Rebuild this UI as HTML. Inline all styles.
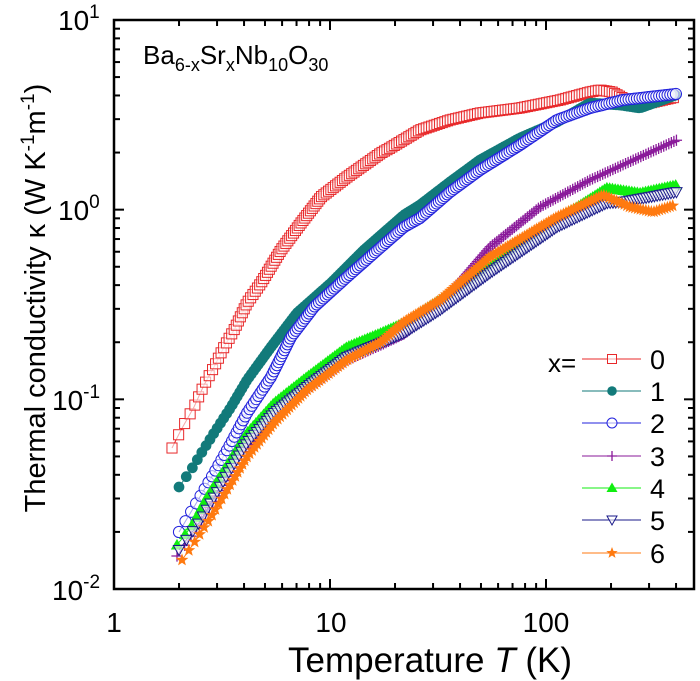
<!DOCTYPE html>
<html><head><meta charset="utf-8"><style>
html,body{margin:0;padding:0;background:#fff}
svg{display:block;font-family:"Liberation Sans",Arial,sans-serif}
</style></head><body>
<svg id="s" width="700" height="681" viewBox="0 0 700 681" xmlns="http://www.w3.org/2000/svg">
<rect width="700" height="681" fill="#fff"/>
<g id="data"></g>
<g id="axes" stroke="#000" stroke-width="2" fill="none"></g>
<rect x="114" y="20" width="580" height="569" fill="none" stroke="#000" stroke-width="2.5"/>
<g font-size="28" fill="#000">
<text x="58" y="30">10<tspan dy="-12" font-size="19">1</tspan></text>
<text x="58" y="220">10<tspan dy="-12" font-size="19">0</tspan></text>
<text x="52" y="410">10<tspan dy="-12" font-size="19">-1</tspan></text>
<text x="52" y="600">10<tspan dy="-12" font-size="19">-2</tspan></text>
<text x="114" y="632" text-anchor="middle">1</text>
<text x="331" y="632" text-anchor="middle">10</text>
<text x="546" y="632" text-anchor="middle">100</text>
</g>
<text x="430" y="672" font-size="35" text-anchor="middle">Temperature <tspan font-style="italic">T</tspan> (K)</text>
<text transform="translate(45,298) rotate(-90)" font-size="29" text-anchor="middle">Thermal conductivity κ (W K<tspan dy="-11" font-size="19">-1</tspan><tspan dy="11">m</tspan><tspan dy="-11" font-size="19">-1</tspan><tspan dy="11">)</tspan></text>
<text x="143" y="64" font-size="26">Ba<tspan dy="7" font-size="18">6-x</tspan><tspan dy="-7">Sr</tspan><tspan dy="7" font-size="18">x</tspan><tspan dy="-7">Nb</tspan><tspan dy="7" font-size="18">10</tspan><tspan dy="-7">O</tspan><tspan dy="7" font-size="18">30</tspan></text>
<text x="548" y="372" font-size="26">x=</text>
<g id="leg"></g>
</svg>
<script>
var NS="http://www.w3.org/2000/svg";
function el(t,a,p){var e=document.createElementNS(NS,t);for(var k in a)e.setAttribute(k,a[k]);p.appendChild(e);return e;}
var ax=document.getElementById('axes');
function xp(T){return 114+216*Math.log10(T);}
function yp(k){return 589-189.67*(Math.log10(k)+2);}
for(var d=0;d<3;d++)for(var m=1;m<10;m++){var T=m*Math.pow(10,d);var x=xp(T);if(x<=114.5||x>693)continue;var L=(m==1)?10:6;
el('line',{x1:x,y1:589,x2:x,y2:589-L},ax);el('line',{x1:x,y1:20,x2:x,y2:20+L},ax);}
for(var d=-2;d<1;d++)for(var m=1;m<10;m++){var k=m*Math.pow(10,d);var y=yp(k);if(y>=588.5||y<21)continue;var L=(m==1)?10:6;
el('line',{x1:114,y1:y,x2:114+L,y2:y},ax);el('line',{x1:694,y1:y,x2:694-L,y2:y},ax);}
var S=[
{c:'#e8282a',m:'sq',p:[[172,448],[181,430],[194,407],[204,385],[214,367],[224,347],[234,330],[247,303],[261,283],[281,250],[301,223],[321,197],[347,177],[381,153],[390,148],[420,130],[450,120],[480,113],[520,108],[560,100],[590,92],[600,90],[612,92],[630,102],[650,103],[676,97]]},
{c:'#127a7a',m:'fc',p:[[179,487],[191,470],[202,452],[214,433],[231,407],[247,380],[271,347],[297,313],[331,283],[364,250],[404,215],[420,205],[450,182],[480,160],[520,138],[557,122],[590,103],[620,105],[640,108],[676,95]]},
{c:'#2222dd',m:'oc',p:[[179,532],[194,507],[214,473],[231,443],[247,413],[271,377],[291,337],[314,307],[347,277],[381,247],[404,227],[420,218],[450,192],[480,170],[520,145],[557,120],[590,108],[623,100],[676,94]]},
{c:'#8a1a9a',m:'pl',p:[[177,556],[201,522],[224,482],[247,446],[274,416],[307,390],[347,360],[381,345],[404,334],[440,305],[490,247],[540,207],[590,180],[677,140]]},
{c:'#10ee10',m:'tu',p:[[177,545],[191,527],[207,497],[224,470],[247,433],[274,403],[307,377],[347,347],[381,333],[404,323],[440,300],[490,267],[557,220],[607,188],[640,193],[677,185]]},
{c:'#1a1a8a',m:'td',p:[[179,550],[201,520],[224,480],[247,443],[274,413],[307,387],[347,357],[381,343],[404,333],[440,310],[490,273],[557,227],[607,203],[623,202],[677,192]]},
{c:'#ff7a10',m:'st',p:[[182,560],[194,543],[211,517],[227,490],[247,457],[274,423],[307,390],[347,360],[381,342],[404,322],[440,300],[490,257],[557,217],[603,195],[630,207],[653,212],[675,205]]}
];
function mk(t,x,y,c,g,s){s=s||1.12;
if(t=='sq')el('rect',{x:x-4.5*s,y:y-4.5*s,width:9*s,height:9*s,fill:'#fff','fill-opacity':0.6,stroke:c,'stroke-width':1},g);
else if(t=='fc')el('circle',{cx:x,cy:y,r:4.8*s,fill:c},g);
else if(t=='oc')el('circle',{cx:x,cy:y,r:5*s,fill:'#fff','fill-opacity':0.6,stroke:c,'stroke-width':1},g);
else if(t=='pl'){el('path',{d:'M'+(x-5*s)+' '+y+'h'+10*s+'M'+x+' '+(y-5*s)+'v'+10*s,stroke:c,'stroke-width':1.3},g);}
else if(t=='tu')el('path',{d:'M'+x+' '+(y-5.5*s)+'L'+(x+5.5*s)+' '+(y+4*s)+'L'+(x-5.5*s)+' '+(y+4*s)+'Z',fill:c},g);
else if(t=='td')el('path',{d:'M'+(x-5*s)+' '+(y-4*s)+'L'+(x+5*s)+' '+(y-4*s)+'L'+x+' '+(y+5*s)+'Z',fill:'#fff','fill-opacity':0.6,stroke:c,'stroke-width':1},g);
else if(t=='st'){var d='';for(var i=0;i<10;i++){var r=(i%2?2.5:6)*s,a=-Math.PI/2+i*Math.PI/5;d+=(i?'L':'M')+(x+r*Math.cos(a)).toFixed(1)+' '+(y+r*Math.sin(a)).toFixed(1);}el('path',{d:d+'Z',fill:c},g);}
}
var dg=document.getElementById('data');
S.forEach(function(s){
var g=el('g',{},dg);var p=s.p;
var d='M'+p.map(function(q){return q.join(' ')}).join('L');
el('path',{d:d,fill:'none',stroke:s.c,'stroke-width':1},g);
var acc=0,next=0;
for(var i=0;i<p.length-1;i++){var dx=p[i+1][0]-p[i][0],dy=p[i+1][1]-p[i][1],L=Math.sqrt(dx*dx+dy*dy);
while(next<=acc+L){var t=(next-acc)/L;var x=p[i][0]+t*dx,y=p[i][1]+t*dy;mk(s.m,x,y,s.c,g);
var step=2.8+12*Math.exp(-(x-172)/35);next+=step;}acc+=L;}
});
var lg=document.getElementById('leg');var ys=[359,391,423,456,488,520,553];
S.forEach(function(s,i){var y=ys[i];el('line',{x1:582,y1:y,x2:641,y2:y,stroke:s.c,'stroke-width':1},lg);mk(s.m,612,y,s.c,lg,1);
var t=el('text',{x:650,y:y+10,'font-size':27},lg);t.textContent=String(i);});
</script>
</body></html>
